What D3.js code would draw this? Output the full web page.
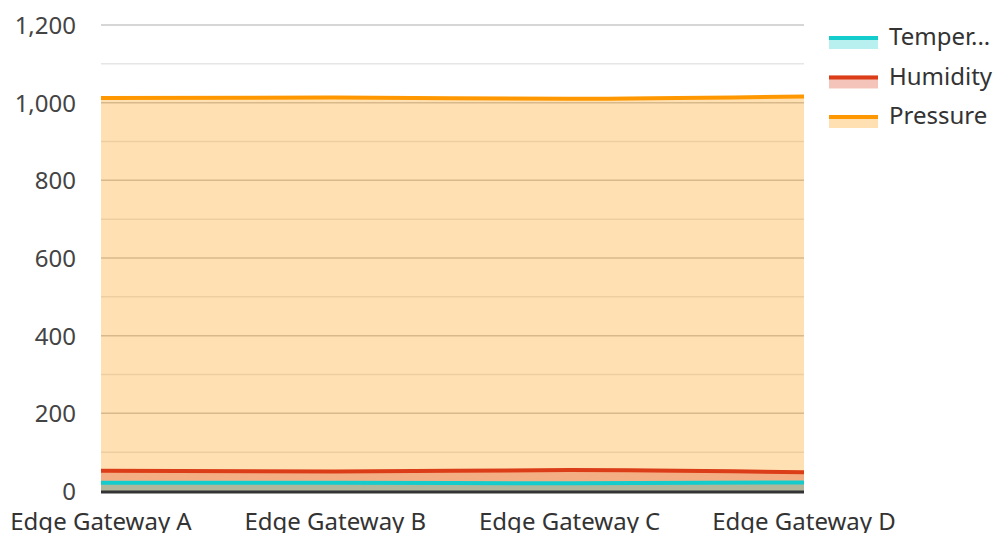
<!DOCTYPE html>
<html>
<head>
<meta charset="utf-8">
<script src="https://cdn.jsdelivr.net/npm/d3@7"></script>
<style>
body { margin: 0; background: #fff; }
text { font-family: "Noto Sans", "Open Sans", sans-serif; }
</style>
</head>
<body>
<script>
var categories = ["Edge Gateway A", "Edge Gateway B", "Edge Gateway C", "Edge Gateway D"];
var seriesNames = ["Temperature", "Humidity", "Pressure"];
var temperature = [21, 21, 20, 22];
var humidity = [52, 50, 54, 48];
var pressure = [1012, 1013, 1010, 1016];
var colors = ["#14cccc", "#dc3d19", "#ff9800"];
var yTicks = [0, 200, 400, 600, 800, 1000, 1200];

var w = 996, h = 533;
var plotLeft = 101, plotRight = 804, plotTop = 25, plotBottom = 491;

var svg = d3.select("body").append("svg").attr("width", w).attr("height", h);

var x = d3.scalePoint().domain(categories).range([plotLeft, plotRight]);
var y = d3.scaleLinear().domain([0, 1200]).range([plotBottom, plotTop]);

// grid lines, minor every 100
svg.append("g").selectAll("line")
    .data(d3.range(100, 1300, 100))
    .enter().append("line")
    .attr("x1", plotLeft).attr("x2", plotRight)
    .attr("y1", function(d) { return y(d); })
    .attr("y2", function(d) { return y(d); })
    .style("stroke", function(d) { return d % 200 == 0 ? "#c8c8c8" : "#e6e6e6"; })
    .style("stroke-width", 1.5);

var data = [temperature, humidity, pressure];

var area = d3.area()
    .x(function(d, i) { return x(categories[i]); })
    .y0(y(0))
    .y1(function(d) { return y(d); })
    .curve(d3.curveMonotoneX);

var line = d3.line()
    .x(function(d, i) { return x(categories[i]); })
    .y(function(d) { return y(d); })
    .curve(d3.curveMonotoneX);

// areas: draw from largest to smallest so lines stay visible
[2, 1, 0].forEach(function(k) {
    svg.append("path")
        .attr("d", area(data[k]))
        .attr("fill", colors[k])
        .attr("fill-opacity", 0.3);
});
[2, 1, 0].forEach(function(k) {
    svg.append("path")
        .attr("d", line(data[k]))
        .attr("fill", "none")
        .attr("stroke", colors[k])
        .attr("stroke-width", 4);
});

// baseline
svg.append("line")
    .attr("x1", plotLeft).attr("x2", plotRight)
    .attr("y1", y(0) + 1).attr("y2", y(0) + 1)
    .style("stroke", "#333")
    .style("stroke-width", 3);

// y axis labels
svg.append("g").selectAll("text")
    .data(yTicks)
    .enter().append("text")
    .attr("x", 76)
    .attr("y", function(d) { return y(d) + 9; })
    .attr("text-anchor", "end")
    .attr("font-size", "24px")
    .attr("fill", "#444")
    .text(function(d) { return d3.format(",")(d); });

// x axis labels
svg.append("g").selectAll("text")
    .data(categories)
    .enter().append("text")
    .attr("x", function(d) { return x(d); })
    .attr("y", 530)
    .attr("text-anchor", "middle")
    .attr("font-size", "24px")
    .attr("fill", "#333")
    .text(function(d) { return d; });

// legend
var legend = svg.append("g").selectAll("g")
    .data(seriesNames)
    .enter().append("g")
    .attr("transform", function(d, i) { return "translate(829," + (36 + i * 39.5) + ")"; });

legend.append("rect")
    .attr("x", 0).attr("y", 0)
    .attr("width", 49).attr("height", 13)
    .attr("fill", function(d, i) { return colors[i]; })
    .attr("fill-opacity", 0.3);
legend.append("rect")
    .attr("x", 0).attr("y", 0)
    .attr("width", 49).attr("height", 4)
    .attr("fill", function(d, i) { return colors[i]; });
legend.append("text")
    .attr("x", 60).attr("y", 9)
    .attr("font-size", "24px")
    .attr("fill", "#333")
    .text(function(d) { return d == "Temperature" ? "Temper..." : d; });
</script>
</body>
</html>
